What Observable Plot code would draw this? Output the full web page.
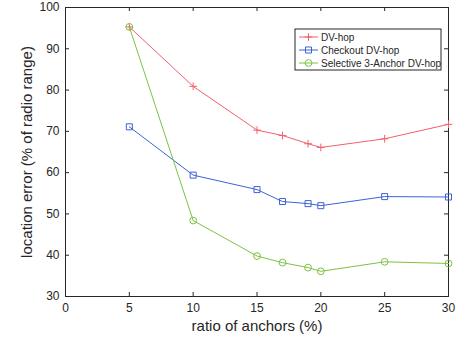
<!DOCTYPE html>
<html>
<head>
<meta charset="utf-8">
<script src="https://cdn.jsdelivr.net/npm/d3@7"></script>
<script src="https://cdn.jsdelivr.net/npm/@observablehq/plot@0.6"></script>
<style>
  html, body { margin: 0; padding: 0; background: #fff; }
  #chart { position: relative; width: 474px; height: 347px; }
</style>
</head>
<body>
<div id="chart"></div>
<script>
// ---- data ----
const anchors = [5, 10, 15, 17, 19, 20, 25, 30];
const dvHop = [95.3, 80.9, 70.3, 69.0, 67.0, 66.1, 68.2, 71.7];
const checkoutDvHop = [71.1, 59.4, 55.9, 53.0, 52.5, 52.0, 54.2, 54.1];
const selectiveDvHop = [95.3, 48.4, 39.8, 38.2, 37.0, 36.1, 38.4, 38.0];
const seriesNames = ["DV-hop", "Checkout DV-hop", "Selective 3-Anchor DV-hop"];
const xTicks = [0, 5, 10, 15, 20, 25, 30];
const yTicks = [30, 40, 50, 60, 70, 80, 90, 100];
const xLabel = "ratio of anchors (%)";
const yLabel = "location error (% of radio range)";

// ---- styles ----
const colors = ["#f25f6c", "#3d62d6", "#7dc243"];
const symbols = ["plus", "square", "circle"];
const radii = [2.6, 3.4, 3.4];

const W = 474, H = 347, mL = 65, mR = 26, mT = 7, mB = 51;
const innerW = W - mL - mR, innerH = H - mT - mB;
const axisColor = "#262626";

const values = [dvHop, checkoutDvHop, selectiveDvHop];
const series = seriesNames.map((name, i) => anchors.map((a, j) => ({ name, x: a, y: values[i][j] })));

const marks = [
  Plot.frame({ stroke: axisColor, strokeWidth: 1 }),
  Plot.ruleX(xTicks, { x: d => d, insetTop: innerH - 4, stroke: axisColor }),
  Plot.ruleX(xTicks, { x: d => d, insetBottom: innerH - 4, stroke: axisColor }),
  Plot.ruleY(yTicks, { y: d => d, insetRight: innerW - 4, stroke: axisColor }),
  Plot.ruleY(yTicks, { y: d => d, insetLeft: innerW - 4, stroke: axisColor }),
  Plot.axisX({ ticks: xTicks, tickSize: 0, tickPadding: 7, label: null, fontSize: 12, color: axisColor }),
  Plot.axisY({ ticks: yTicks, tickSize: 0, tickPadding: 6, label: null, fontSize: 12, color: axisColor }),
  Plot.text([xLabel], { frameAnchor: "bottom", dy: 30, lineAnchor: "middle", textAnchor: "middle", fontSize: 15, fill: axisColor }),
  Plot.text([yLabel], { frameAnchor: "left", dx: -38, rotate: -90, textAnchor: "middle", lineAnchor: "middle", fontSize: 15, fill: axisColor })
];
series.forEach((s, i) => {
  marks.push(Plot.line(s, { x: "x", y: "y", stroke: colors[i], strokeWidth: 1 }));
  marks.push(Plot.dot(s, { x: "x", y: "y", symbol: () => symbols[i], r: radii[i], stroke: colors[i], fill: "none", strokeWidth: 1 }));
});

const svg = Plot.plot({
  width: W, height: H,
  marginLeft: mL, marginRight: mR, marginTop: mT, marginBottom: mB,
  style: { fontFamily: "'Liberation Sans', Arial, sans-serif", fontSize: "12px", background: "#fff", color: axisColor },
  x: { domain: [0, 30] },
  y: { domain: [30, 100] },
  symbol: { type: "identity" },
  marks
});
document.getElementById("chart").appendChild(svg);

// ---- legend (inside the plot, top right) ----
const lg = d3.select(svg).append("g")
  .attr("font-family", "'Liberation Sans', Arial, sans-serif")
  .attr("text-anchor", "start");
const lx = 295, ly = 29, lw = 146, lh = 41;
lg.append("rect").attr("x", lx).attr("y", ly).attr("width", lw).attr("height", lh)
  .attr("fill", "#fff").attr("stroke", axisColor).attr("stroke-width", 1);
seriesNames.forEach((name, i) => {
  const cy = ly + 8 + i * 13;
  lg.append("line").attr("x1", lx + 4).attr("x2", lx + 23).attr("y1", cy).attr("y2", cy)
    .attr("stroke", colors[i]).attr("stroke-width", 1);
  const symType = [d3.symbolPlus, d3.symbolSquare, d3.symbolCircle][i];
  const size = Math.PI * radii[i] * radii[i];
  lg.append("path").attr("d", d3.symbol(symType, size)())
    .attr("transform", `translate(${lx + 13.5},${cy})`)
    .attr("fill", "none").attr("stroke", colors[i]).attr("stroke-width", 1);
  lg.append("text").attr("x", lx + 26).attr("y", cy).attr("dy", "0.35em")
    .attr("text-anchor", "start")
    .attr("font-size", 10).attr("fill", axisColor).text(name);
});
</script>
</body>
</html>
